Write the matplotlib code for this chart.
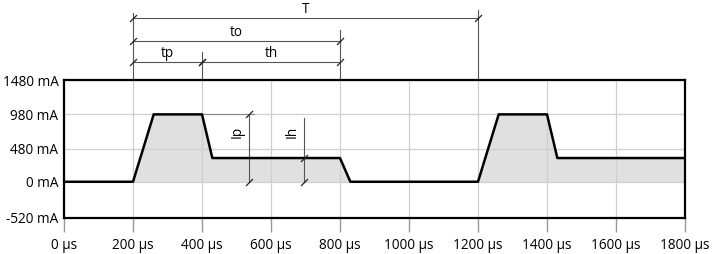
import matplotlib.pyplot as plt
import matplotlib.transforms as mtransforms

plt.rcParams['font.family'] = ['Open Sans', 'DejaVu Sans']

# forma de onda de corriente (pico + mantenimiento)
tiempo_us = [0, 200, 260, 400, 430, 800, 830, 1200, 1260, 1400, 1430, 1800]
corriente_ma = [0, 0, 980, 980, 345, 345, 0, 0, 980, 980, 345, 345]

ticks_x = [0, 200, 400, 600, 800, 1000, 1200, 1400, 1600, 1800]
ticks_y = [-520, 0, 480, 980, 1480]

# cotas de tiempo: (inicio, fin, texto)
cotas_t = [(200, 1200, 'T'), (200, 800, 'to'), (200, 400, 'tp'), (400, 800, 'th')]
# cotas de corriente: (x, valor, texto)
cota_ip = (535, 980, 'Ip')
cota_ih = (695, 345, 'Ih')

fig = plt.figure(figsize=(7.2, 2.54), dpi=100)
ax = fig.add_axes([64 / 720, 36.5 / 254, 621 / 720, 137.5 / 254])

ax.fill_between(tiempo_us, corriente_ma, 0, color='#e0e0e0', lw=0, zorder=1)
ax.plot(tiempo_us, corriente_ma, color='black', lw=1.8, zorder=4)

ax.set_xlim(0, 1800)
ax.set_ylim(-520, 1480)
ax.set_xticks(ticks_x)
ax.set_xticklabels(['{0} µs'.format(t) for t in ticks_x])
ax.set_yticks(ticks_y)
ax.set_yticklabels(['{0} mA'.format(v) for v in ticks_y])
ax.grid(color='#d0d0d0', lw=0.9, zorder=0)
ax.tick_params(axis='x', length=10, color='#999999', width=1, pad=5, labelsize=9.8)
ax.tick_params(axis='y', length=0, pad=4, labelsize=9.8)
for lado in ['left', 'right', 'top', 'bottom']:
    ax.spines[lado].set_linewidth(1.6)
    ax.spines[lado].set_color('black')

gris = '#555555'
barra = [(-1, -1), (1, 1)]
mezcla = mtransforms.blended_transform_factory(ax.transData, ax.transAxes)

# alturas (fraccion de ejes) de las lineas de cota superiores
alto_linea = {'T': 1.45, 'to': 1.283, 'tp': 1.13, 'th': 1.13}
alto_ext = {200: 1.49, 400: 1.205, 800: 1.365, 1200: 1.51}

for x, y_top in alto_ext.items():
    ax.plot([x, x], [1.0, y_top], color=gris, lw=0.8, transform=mezcla, clip_on=False)

for x0, x1, texto in cotas_t:
    y = alto_linea[texto]
    ax.plot([x0, x1], [y, y], color=gris, lw=0.8, transform=mezcla, clip_on=False)
    ax.plot([x0, x1], [y, y], ls='none', marker=barra, ms=5, mec='#222222', mew=0.9,
            transform=mezcla, clip_on=False)
    ax.text((x0 + x1) / 2, y + 0.04, texto, ha='center', va='baseline', fontsize=9.8,
            transform=mezcla)

# cota Ip
x, v, texto = cota_ip
ax.plot([400, x + 15], [v, v], color='#888888', lw=0.8, zorder=2)
ax.plot([x, x], [0, v], color=gris, lw=0.8, zorder=3)
ax.plot([x, x], [0, v], ls='none', marker=barra, ms=5, mec='#222222', mew=0.9, zorder=5)
ax.text(x - 12, 730, texto, rotation=90, ha='right', va='center', fontsize=9.8)

# cota Ih
x, v, texto = cota_ih
ax.plot([x, x], [0, 930], color=gris, lw=0.8, zorder=3)
ax.plot([x, x], [0, v], ls='none', marker=barra, ms=5, mec='#222222', mew=0.9, zorder=5)
ax.text(x - 12, 730, texto, rotation=90, ha='right', va='center', fontsize=9.8)

fig.savefig('out.png', dpi=100)
